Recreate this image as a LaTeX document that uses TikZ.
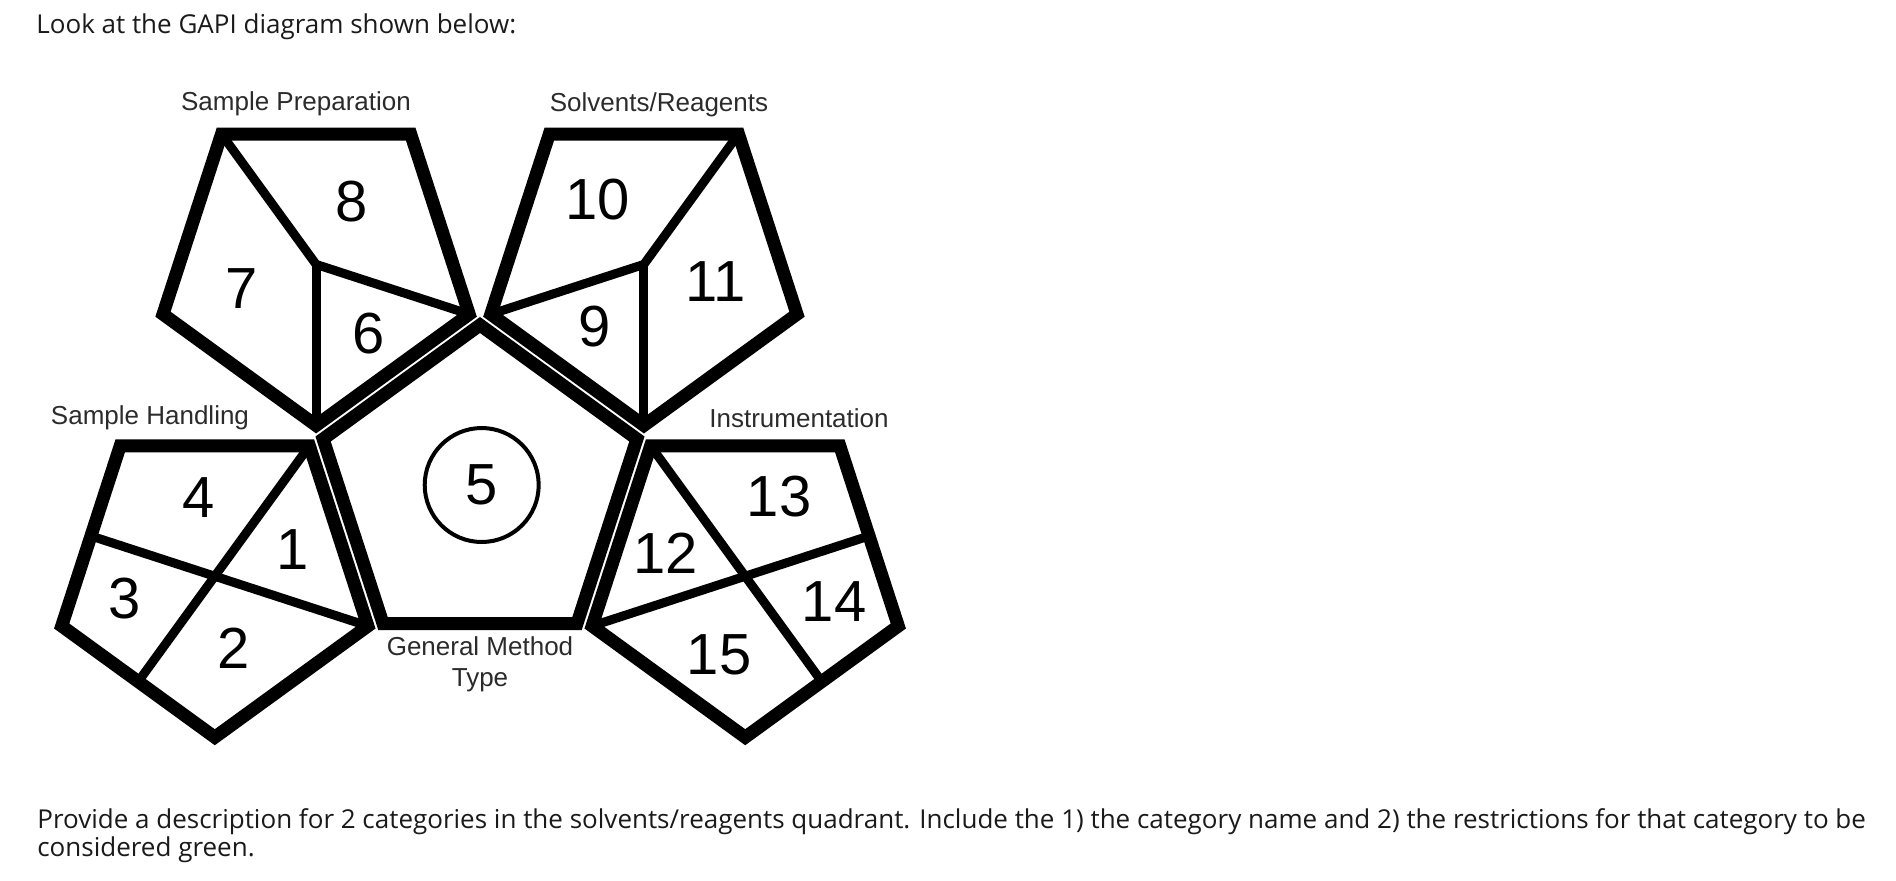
\documentclass[tikz,border=0pt]{standalone}
\usepackage{fontspec}
\setmainfont{Open Sans}
\newfontfamily\gapifont{Liberation Sans}
\usetikzlibrary{calc}
\definecolor{ink}{HTML}{1A1A1A}
\definecolor{labelgray}{HTML}{2B2B2B}

\begin{document}
\begin{tikzpicture}[x=0.02cm,y=-0.02cm,
  rim/.style={line width=0.26cm,line join=miter},
  split/.style={line width=0.18cm},
  num/.style={font=\gapifont\fontsize{33}{38}\selectfont,inner sep=0},
  area/.style={font=\gapifont\fontsize{14.8}{17.6}\selectfont,text=labelgray,inner sep=0,align=center},
  ask/.style={font=\fontsize{14.8}{16}\selectfont,text=ink,anchor=base west,inner sep=0}]
\useasboundingbox (0,0) rectangle (1896,880);

\node (Q1) [ask] at (36,33) {Look at the GAPI diagram shown below:};
\node (Q2) [ask] at (37,828) {Provide a description for 2 categories in the solvents/reagents quadrant. Include the 1) the category name and 2) the restrictions for that category to be};
\node (Q3) [ask] at (37,856) {considered green.};

\coordinate (P) at (316.1,264.4);
\coordinate (P1) at (221.5,134.1);
\coordinate (P2) at (410.7,134.1);
\coordinate (P3) at (469.2,314.2);
\coordinate (P4) at (316.1,425.4);
\coordinate (P5) at (163.0,314.2);

\coordinate (S) at (643.9,264.4);
\coordinate (S1) at (549.3,134.1);
\coordinate (S2) at (738.5,134.1);
\coordinate (S3) at (797.0,314.2);
\coordinate (S4) at (643.9,425.4);
\coordinate (S5) at (490.8,314.2);

\coordinate (H) at (214.8,576.2);
\coordinate (H1) at (120.2,445.9);
\coordinate (H2) at (309.4,445.9);
\coordinate (H3) at (367.9,626.0);
\coordinate (H4) at (214.8,737.2);
\coordinate (H5) at (61.7,626.0);

\coordinate (I) at (745.2,576.2);
\coordinate (I1) at (650.6,445.9);
\coordinate (I2) at (839.8,445.9);
\coordinate (I3) at (898.3,626.0);
\coordinate (I4) at (745.2,737.2);
\coordinate (I5) at (592.1,626.0);

\coordinate (M1) at (480,325);
\coordinate (M2) at (636.9,439.0);
\coordinate (M3) at (577.0,623.5);
\coordinate (M4) at (383.0,623.5);
\coordinate (M5) at (323.1,439.0);

\draw [split] (P1) -- (P) -- (P3);
\draw [split] (P) -- (P4);
\draw [rim] (P1) -- (P2) -- (P3) -- (P4) -- (P5) -- cycle;

\draw [split] (S2) -- (S) -- (S5);
\draw [split] (S) -- (S4);
\draw [rim] (S1) -- (S2) -- (S3) -- (S4) -- (S5) -- cycle;

\draw [split] (H2) -- ($(H4)!0.5!(H5)$);
\draw [split] (H3) -- ($(H5)!0.5!(H1)$);
\draw [rim] (H1) -- (H2) -- (H3) -- (H4) -- (H5) -- cycle;

\draw [split] (I1) -- ($(I3)!0.5!(I4)$);
\draw [split] (I5) -- ($(I2)!0.5!(I3)$);
\draw [rim] (I1) -- (I2) -- (I3) -- (I4) -- (I5) -- cycle;

\draw [rim] (M1) -- (M2) -- (M3) -- (M4) -- (M5) -- cycle;

\node (N1) [num] at (292.3,550) {1};
\node (N2) [num] at (234,648.3) {2};
\node (N3) [num] at (125,599) {3};
\node (N4) [num] at (198.3,497.3) {4};
\node (N5) [num,circle,draw,line width=0.08cm,minimum size=2.28cm] at (481.7,485) {5};
\node (N6) [num] at (368.3,333.3) {6};
\node (N7) [num] at (241.7,288.3) {7};
\node (N8) [num] at (351.7,201.7) {8};
\node (N9) [num] at (595,327) {9};
\node (N10) [num] at (597.3,200) {10};
\node (N11) [num] at (715.7,281.7) {11};
\node (N12) [num] at (665.7,553.3) {12};
\node (N13) [num] at (779,496.7) {13};
\node (N14) [num] at (834,601.3) {14};
\node (N15) [num] at (719,655) {15};

\node (A1) [area] at (296,104) {Sample Preparation};
\node (A2) [area] at (659,105) {Solvents/Reagents};
\node (A3) [area] at (150,418) {Sample Handling};
\node (A4) [area] at (799,418) {Instrumentation};
\node (A5) [area] at (480,664) {General Method\\Type};
\end{tikzpicture}
\end{document}
